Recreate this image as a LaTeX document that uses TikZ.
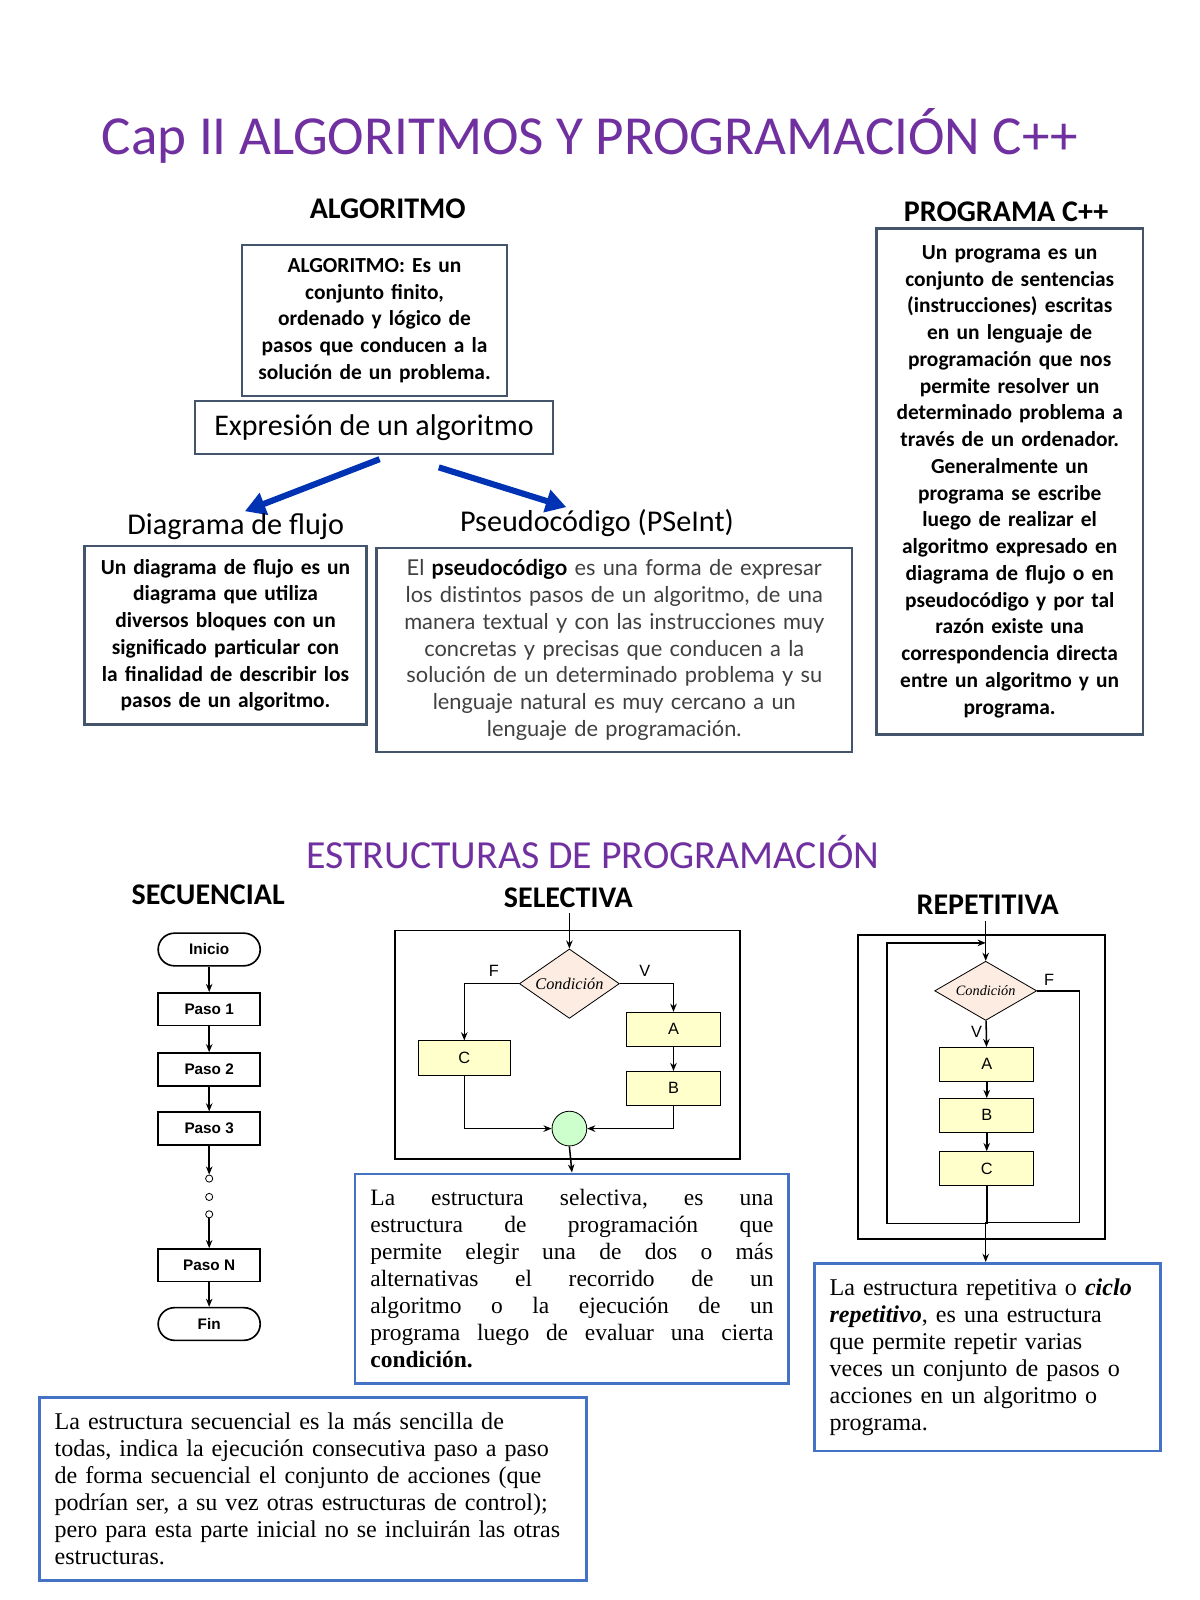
\documentclass[tikz,border=0pt]{standalone}
\usepackage{fontspec}
\setmainfont{Carlito}
\newfontfamily\latofont{Lato}
\newfontfamily\serfont{Liberation Serif}
\newfontfamily\arialfont{Liberation Sans}
\usetikzlibrary{arrows.meta,shapes.geometric}
\definecolor{titpurple}{RGB}{112,48,160}
\definecolor{slate}{RGB}{68,84,106}
\definecolor{boxblue}{RGB}{68,114,196}
\definecolor{arrblue}{RGB}{0,50,180}
\definecolor{stepyellow}{RGB}{255,255,204}
\definecolor{condpeach}{RGB}{252,236,226}
\definecolor{joingreen}{RGB}{204,255,204}
\newcommand{\fullline}[1]{\leavevmode\hbox to 197.5pt{#1}}

\begin{document}
\begin{tikzpicture}[x=0.5pt,y=-0.5pt,
    heading/.style={font=\bfseries\fontsize{14.7}{16}\selectfont},
    subtitle/.style={font=\fontsize{14.8}{16}\selectfont},
    defbox/.style={draw=slate, line width=1.3pt, align=center, inner sep=4pt,
                   font=\bfseries\fontsize{10.5}{13.1}\selectfont},
    notebox/.style={draw=boxblue, line width=1.3pt, align=left, inner sep=7.5pt,
                    font=\serfont\fontsize{11.8}{13.25}\selectfont},
    seqstep/.style={draw, thick, minimum width=50pt, minimum height=16pt, inner sep=0pt,
                    font=\arialfont\bfseries\fontsize{7.5}{9}\selectfont},
    seqend/.style={seqstep, rounded corners=8pt},
    seqdot/.style={circle, draw, thin, minimum size=3.5pt, inner sep=0pt},
    block/.style={draw, fill=stepyellow, minimum width=46pt, minimum height=16.5pt,
                  inner sep=0pt, font=\arialfont\fontsize{8}{9}\selectfont},
    cond/.style={diamond, draw, fill=condpeach, inner sep=0pt,
                 font=\serfont\itshape\fontsize{8}{9}\selectfont},
    flag/.style={font=\arialfont\fontsize{8}{9}\selectfont},
    frame/.style={draw, line width=0.8pt},
    arrow/.style={-{Stealth[length=4pt,width=3.2pt]}, line width=0.75pt},
    bigarrow/.style={-{Triangle[length=10pt,width=11pt]}, line width=3pt, draw=arrblue}]
   \useasboundingbox (0,0) rectangle (1176,1568);
   % title
   \node (title) at (578,133) {\color{titpurple}\fontsize{27}{30}\selectfont Cap II ALGORITMOS Y PROGRAMACIÓN C++};
   % algoritmo
   \node[heading] (halg) at (380,205) {ALGORITMO};
   \node[defbox, text width=122pt, minimum height=74pt] (alg) at (367,314)
     {ALGORITMO: Es un\\ conjunto finito,\\ ordenado y lógico de\\ pasos que conducen a la\\ solución de un problema.};
   \node[draw=slate, line width=1.3pt, minimum width=175.5pt, minimum height=26pt,
         font=\fontsize{14.7}{16}\selectfont] (expr) at (366.5,419) {Expresión de un algoritmo};
   \coordinate (a1s) at (372,450);
   \coordinate (a1e) at (240,501);
   \coordinate (a2s) at (430,458);
   \coordinate (a2e) at (555,497);
   \draw[bigarrow] (a1s) -- (a1e);
   \draw[bigarrow] (a2s) -- (a2e);
   \node[subtitle] (hflujo) at (231,516) {Diagrama de flujo};
   \node[subtitle] (hpseudo) at (585,513) {Pseudocódigo (PSeInt)};
   \node[defbox, text width=130pt, minimum height=87.5pt] (flujo) at (221,622.5)
     {Un diagrama de flujo es un\\ diagrama que utiliza\\ diversos bloques con un\\ significado particular con\\ la finalidad de describir los\\ pasos de un algoritmo.};
   \node[defbox, text width=225pt, minimum height=100pt, text=black!75,
         font=\latofont\fontsize{10.7}{13.1}\selectfont] (pseudo) at (602,637)
     {El {\color{black}\bfseries pseudocódigo} es una forma de expresar\\ los distintos pasos de un algoritmo, de una\\ manera textual y con las instrucciones muy\\ concretas y precisas que conducen a la\\ solución de un determinado problema y su\\ lenguaje natural es muy cercano a un\\ lenguaje de programación.};
   % programa
   \node[heading] (hprog) at (986,208) {PROGRAMA C++};
   \node[defbox, text width=122.5pt, minimum height=248pt] (prog) at (989.5,472)
     {Un programa es un\\ conjunto de sentencias\\ (instrucciones) escritas\\ en un lenguaje de\\ programación que nos\\ permite resolver un\\ determinado problema a\\ través de un ordenador.\\ Generalmente un\\ programa se escribe\\ luego de realizar el\\ algoritmo expresado en\\ diagrama de flujo o en\\ pseudocódigo y por tal\\ razón existe una\\ correspondencia directa\\ entre un algoritmo y un\\ programa.};
   % estructuras
   \node (title2) at (581,835) {\color{titpurple}\fontsize{19.5}{22}\selectfont ESTRUCTURAS DE PROGRAMACIÓN};
   \node[heading] (hseq) at (204,877) {SECUENCIAL};
   \node[heading] (hsel) at (557,880) {SELECTIVA};
   \node[heading] (hrep) at (968,887) {REPETITIVA};
   % secuencial
   \node[seqend] (ini) at (205,930.5) {Inicio};
   \node[seqstep] (p1) at (205,989) {Paso 1};
   \node[seqstep] (p2) at (205,1048) {Paso 2};
   \node[seqstep] (p3) at (205,1106) {Paso 3};
   \node[seqdot] (d1) at (205,1155) {};
   \node[seqdot] (d2) at (205,1173) {};
   \node[seqdot] (d3) at (205,1190) {};
   \node[seqstep] (pn) at (205,1240) {Paso N};
   \node[seqend] (fin) at (205,1297.5) {Fin};
   \draw[arrow] (ini) -- (p1);
   \draw[arrow] (p1) -- (p2);
   \draw[arrow] (p2) -- (p3);
   \draw[arrow] (p3) -- (d1);
   \draw[arrow] (d3) -- (pn);
   \draw[arrow] (pn) -- (fin);
   \node[notebox, text width=253pt, minimum height=88pt] (seqtext) at (306.5,1459)
     {La estructura secuencial es la más sencilla de\\ todas, indica la ejecución consecutiva paso a paso\\ de forma secuencial el conjunto de acciones (que\\ podrían ser, a su vez otras estructuras de control);\\ pero para esta parte inicial no se incluirán las otras\\ estructuras.};
   % selectiva
   \draw[frame] (387,912) rectangle (725,1136);
   \coordinate (sin) at (558,895);
   \node[cond, aspect=1.5, minimum width=49pt, minimum height=34pt] (scond) at (558,964) {Condición};
   \node[block, minimum width=45pt, minimum height=17pt] (sc) at (455,1037) {C};
   \node[block] (sa) at (660,1008.5) {A};
   \node[block] (sb) at (660,1066.5) {B};
   \node[circle, draw, fill=joingreen, minimum size=17pt, inner sep=0pt] (sjoin) at (558,1106) {};
   \node[flag] (sf) at (484,951) {F};
   \node[flag] (sv) at (632,951) {V};
   \draw[arrow] (sin) -- (scond.north);
   \draw[arrow] (scond.west) -| (sc.north);
   \draw[arrow] (scond.east) -| (sa.north);
   \draw[arrow] (sa) -- (sb);
   \draw[arrow] (sb.south) |- (sjoin.east);
   \draw[arrow] (sc.south) |- (sjoin.west);
   \node[notebox, font=\serfont\fontsize{11.5}{13.25}\selectfont, text width=197.5pt, minimum height=101pt] (seltext) at (560.5,1253)
     {\fullline{La\hfill estructura\hfill selectiva,\hfill es\hfill una}\\
      \fullline{estructura\hfill de\hfill programación\hfill que}\\
      \fullline{permite\hfill elegir\hfill una\hfill de\hfill dos\hfill o\hfill más}\\
      \fullline{alternativas\hfill el\hfill recorrido\hfill de\hfill un}\\
      \fullline{algoritmo\hfill o\hfill la\hfill ejecución\hfill de\hfill un}\\
      \fullline{programa\hfill luego\hfill de\hfill evaluar\hfill una\hfill cierta}\\
      \textbf{condición.}};
   \draw[arrow] (sjoin.south) -- (seltext.north);
   % repetitiva
   \draw[frame] (841,916) rectangle (1083,1214);
   \coordinate (rin) at (966,903);
   \coordinate (rjoin) at (966,924);
   \coordinate (rloop) at (869,924);
   \coordinate (rf) at (1058,1198);
   \coordinate (rexit) at (966,1198);
   \node[cond, aspect=1.9, minimum width=50pt, minimum height=29pt,
         font=\serfont\itshape\fontsize{7}{8}\selectfont] (rcond) at (966,971) {Condición};
   \node[block] (ra) at (967,1043) {A};
   \node[block] (rb) at (967,1093) {B};
   \node[block] (rc) at (967,1145) {C};
   \node[flag] (rfl) at (1028,960) {F};
   \node[flag] (rvl) at (957,1011) {V};
   \draw[arrow] (rin) -- (rcond.north);
   \draw[arrow] (rcond) -- (ra);
   \draw[arrow] (ra) -- (rb);
   \draw[arrow] (rb) -- (rc);
   \draw[arrow] (rc.south) -- ++(0,37) -| (rloop) -- (rjoin);
   \node[notebox, text width=154.5pt, minimum height=89pt] (reptext) at (967.5,1330)
     {La estructura repetitiva o \textbf{\textit{ciclo}}\\ \textbf{\textit{repetitivo}}, es una estructura\\ que permite repetir varias\\ veces un conjunto de pasos o\\ acciones en un algoritmo o\\ programa.};
   \draw[line width=0.75pt] (rcond.east) -| (rf) -- (rexit);
   \draw[arrow] (rexit) -- (rexit |- reptext.north);
\end{tikzpicture}
\end{document}
